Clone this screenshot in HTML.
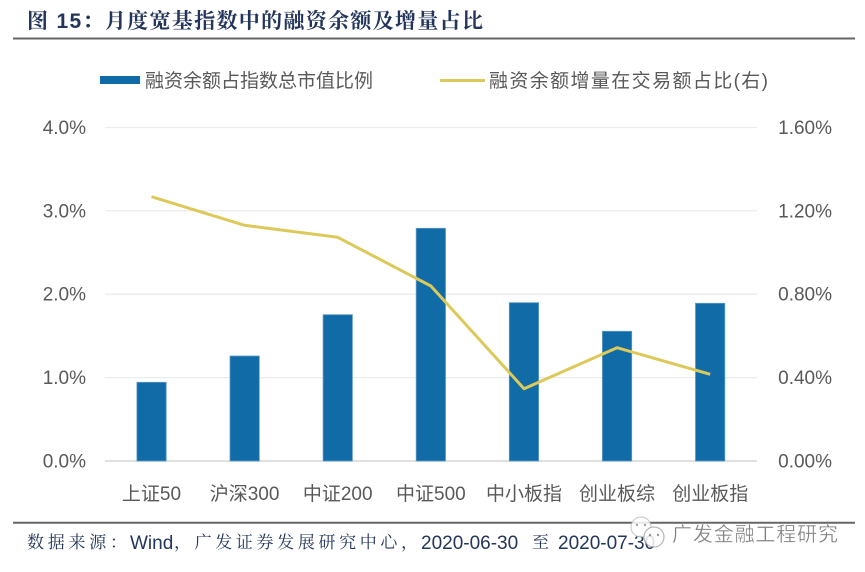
<!DOCTYPE html>
<html>
<head>
<meta charset="utf-8">
<style>
html,body{margin:0;padding:0;background:#fff;}
svg{display:block;}
</style>
</head>
<body>
<svg width="865" height="572" viewBox="0 0 865 572" xmlns="http://www.w3.org/2000/svg">
  <rect x="0" y="0" width="865" height="572" fill="#ffffff"/>
  <!-- Title -->
  <text x="27" y="28" font-family="'Liberation Sans','Noto Serif CJK SC',serif" font-size="21" font-weight="bold" fill="#23355a" textLength="456" lengthAdjust="spacing">图 15：月度宽基指数中的融资余额及增量占比</text>
  <line x1="13" y1="38.5" x2="855" y2="38.5" stroke="#666" stroke-width="2"/>

  <!-- Legend -->
  <rect x="100" y="76" width="40" height="8" fill="#106ba6"/>
  <text x="145" y="87" font-family="'Liberation Sans','Noto Sans CJK SC',sans-serif" font-size="19" fill="#595959" textLength="228" lengthAdjust="spacing">融资余额占指数总市值比例</text>
  <line x1="440" y1="80.5" x2="485" y2="80.5" stroke="#dcc95a" stroke-width="3"/>
  <text x="489" y="87" font-family="'Liberation Sans','Noto Sans CJK SC',sans-serif" font-size="19" fill="#595959" textLength="279" lengthAdjust="spacing">融资余额增量在交易额占比(右)</text>

  <!-- Gridlines -->
  <g stroke="#ececec" stroke-width="1.3">
    <line x1="105" y1="127.5" x2="757" y2="127.5"/>
    <line x1="105" y1="210.8" x2="757" y2="210.8"/>
    <line x1="105" y1="294.2" x2="757" y2="294.2"/>
    <line x1="105" y1="377.6" x2="757" y2="377.6"/>
  </g>
  <line x1="105" y1="461" x2="757" y2="461" stroke="#d6d6d6" stroke-width="1.5"/>

  <!-- Left axis labels -->
  <g font-family="'Liberation Sans',sans-serif" font-size="19" fill="#595959" text-anchor="end">
    <text x="86" y="134">4.0%</text>
    <text x="86" y="217.3">3.0%</text>
    <text x="86" y="300.7">2.0%</text>
    <text x="86" y="384.1">1.0%</text>
    <text x="86" y="467.5">0.0%</text>
  </g>
  <!-- Right axis labels -->
  <g font-family="'Liberation Sans',sans-serif" font-size="19" fill="#595959" text-anchor="end">
    <text x="832" y="134">1.60%</text>
    <text x="832" y="217.3">1.20%</text>
    <text x="832" y="300.7">0.80%</text>
    <text x="832" y="384.1">0.40%</text>
    <text x="832" y="467.5">0.00%</text>
  </g>

  <!-- Bars -->
  <g fill="#106ba6" stroke="#5e9bc8" stroke-width="0.8">
    <rect x="136.9" y="382.3" width="29.3" height="78.7"/>
    <rect x="230.0" y="356.0" width="29.3" height="105.0"/>
    <rect x="323.1" y="314.7" width="29.3" height="146.3"/>
    <rect x="416.2" y="228.3" width="29.3" height="232.7"/>
    <rect x="509.3" y="302.7" width="29.3" height="158.3"/>
    <rect x="602.4" y="331.3" width="29.3" height="129.7"/>
    <rect x="695.5" y="303.3" width="29.3" height="157.7"/>
  </g>

  <!-- Line -->
  <polyline points="151.5,196.7 244.6,225.3 337.7,237.3 430.9,286 524,388.7 617,347.7 710.2,374.3" fill="none" stroke="#dcc95a" stroke-width="3" stroke-linejoin="round" stroke-linecap="butt"/>

  <!-- X labels -->
  <g font-family="'Liberation Sans','Noto Sans CJK SC',sans-serif" font-size="19" fill="#595959" text-anchor="middle">
    <text x="151.5" y="500">上证50</text>
    <text x="244.6" y="500">沪深300</text>
    <text x="337.7" y="500">中证200</text>
    <text x="430.9" y="500">中证500</text>
    <text x="524" y="500">中小板指</text>
    <text x="617" y="500">创业板综</text>
    <text x="710.2" y="500">创业板指</text>
  </g>

  <!-- Footer -->
  <line x1="13" y1="522.7" x2="855" y2="522.7" stroke="#666" stroke-width="2"/>
  <g fill="#23355a">
    <text x="27" y="548" font-family="'Liberation Sans','Noto Serif CJK SC',serif" font-size="17" textLength="100" lengthAdjust="spacing">数据来源：</text>
    <text x="130" y="549" font-family="'Liberation Sans',sans-serif" font-size="19">Wind</text>
    <text x="174" y="548" font-family="'Liberation Sans','Noto Serif CJK SC',serif" font-size="17" textLength="244" lengthAdjust="spacing">，广发证券发展研究中心，</text>
    <text x="421" y="549" font-family="'Liberation Sans',sans-serif" font-size="19">2020-06-30</text>
    <text x="532" y="548" font-family="'Liberation Sans','Noto Serif CJK SC',serif" font-size="17">至</text>
    <text x="558" y="549" font-family="'Liberation Sans',sans-serif" font-size="19">2020-07-30</text>
  </g>

  <!-- Watermark -->
  <g opacity="0.85">
    <circle cx="641" cy="527" r="10" fill="#fff" stroke="#bbb" stroke-width="1"/>
    <circle cx="654" cy="537" r="10" fill="#fff" stroke="#aaa" stroke-width="1.2"/>
    <circle cx="637" cy="525" r="1.2" fill="#999"/>
    <circle cx="645" cy="525" r="1.2" fill="#999"/>
    <circle cx="650" cy="535" r="1.2" fill="#888"/>
    <circle cx="658" cy="535" r="1.2" fill="#888"/>
  </g>
  <text x="672" y="541" font-family="'Liberation Sans','Noto Sans CJK SC',sans-serif" font-size="20" fill="#808080" stroke="#ffffff" stroke-width="0.3" textLength="166" lengthAdjust="spacing">广发金融工程研究</text>
</svg>
</body>
</html>
